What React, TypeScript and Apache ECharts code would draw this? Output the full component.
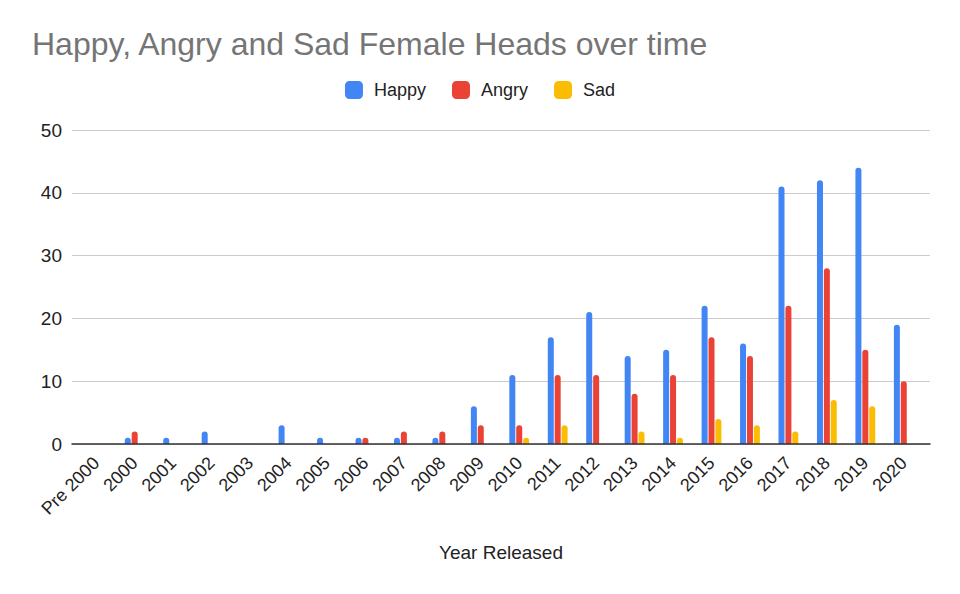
import React, { useEffect, useRef } from "react";
import * as echarts from "echarts";

const categories = ["Pre 2000", "2000", "2001", "2002", "2003", "2004", "2005", "2006", "2007", "2008", "2009", "2010", "2011", "2012", "2013", "2014", "2015", "2016", "2017", "2018", "2019", "2020"];
const happy = [0, 1, 1, 2, 0, 3, 1, 1, 1, 1, 6, 11, 17, 21, 14, 15, 22, 16, 41, 42, 44, 19];
const angry = [0, 2, 0, 0, 0, 0, 0, 1, 2, 2, 3, 3, 11, 11, 8, 11, 17, 14, 22, 28, 15, 10];
const sad = [0, 0, 0, 0, 0, 0, 0, 0, 0, 0, 0, 1, 3, 0, 2, 1, 4, 3, 2, 7, 6, 0];
const yTicks = [0, 10, 20, 30, 40, 50];

const FONT = "'Liberation Sans', Arial, sans-serif";

export default function App() {
  const ref = useRef<HTMLDivElement>(null);
  useEffect(() => {
    if (!ref.current) return;
    const chart = echarts.init(ref.current, undefined, { renderer: "svg" });
    const barStyle = (color: string) => ({
      type: "bar" as const,
      xAxisIndex: 1,
      yAxisIndex: 1,
      barWidth: 6,
      barGap: "15%",
      itemStyle: { color, borderRadius: [3, 3, 0, 0] },
    });
    chart.setOption({
      animation: false,
      backgroundColor: "#ffffff",
      textStyle: { fontFamily: FONT },
      title: {
        text: "Happy, Angry and Sad Female Heads over time",
        left: 19,
        top: 15,
        textStyle: { fontSize: 32, fontWeight: "normal", color: "#757575", fontFamily: FONT },
      },
      legend: {
        top: 68,
        left: "center",
        itemWidth: 18,
        itemHeight: 18,
        itemGap: 26,
        icon: "roundRect",
        textStyle: { fontSize: 18, color: "#222", fontFamily: FONT, padding: [0, 0, 0, 6] },
        data: ["Happy", "Angry", "Sad"],
      },
      grid: [
        { left: 64, right: 22, top: 122, bottom: 142, containLabel: false },
        { left: 69, right: 29, top: 122, bottom: 142, containLabel: false },
      ],
      xAxis: [
        {
          type: "category",
          gridIndex: 0,
          data: categories,
          name: "Year Released",
          nameLocation: "middle",
          nameGap: 99,
          nameTextStyle: { fontSize: 19, color: "#222", fontFamily: FONT },
          axisLine: { lineStyle: { color: "#333", width: 1.5 } },
          axisTick: { show: false },
          axisLabel: { show: false },
          z: 5,
        },
        {
          type: "category",
          gridIndex: 1,
          data: categories,
          axisLine: { show: false },
          axisTick: { show: false },
          axisLabel: { rotate: 45, fontSize: 18, color: "#222", interval: 0, margin: 16, fontFamily: FONT },
        },
      ],
      yAxis: [
        {
          type: "value",
          gridIndex: 0,
          min: 0,
          max: 50,
          interval: 10,
          axisLine: { show: false },
          axisTick: { show: false },
          axisLabel: {
            fontSize: 19,
            color: "#222",
            margin: 10,
            fontFamily: FONT,
            formatter: (v: number) => (yTicks.includes(v) ? String(v) : ""),
          },
          splitLine: { lineStyle: { color: "#cccccc", width: 1 } },
        },
        {
          type: "value",
          gridIndex: 1,
          min: 0,
          max: 50,
          interval: 10,
          show: false,
          splitLine: { show: false },
        },
      ],
      series: [
        { name: "Happy", data: happy, ...barStyle("#4285f4") },
        { name: "Angry", data: angry, ...barStyle("#ea4335") },
        { name: "Sad", data: sad, ...barStyle("#fbbc04") },
      ],
    });
    return () => chart.dispose();
  }, []);
  return <div ref={ref} style={{ width: 944, height: 578 }} />;
}
